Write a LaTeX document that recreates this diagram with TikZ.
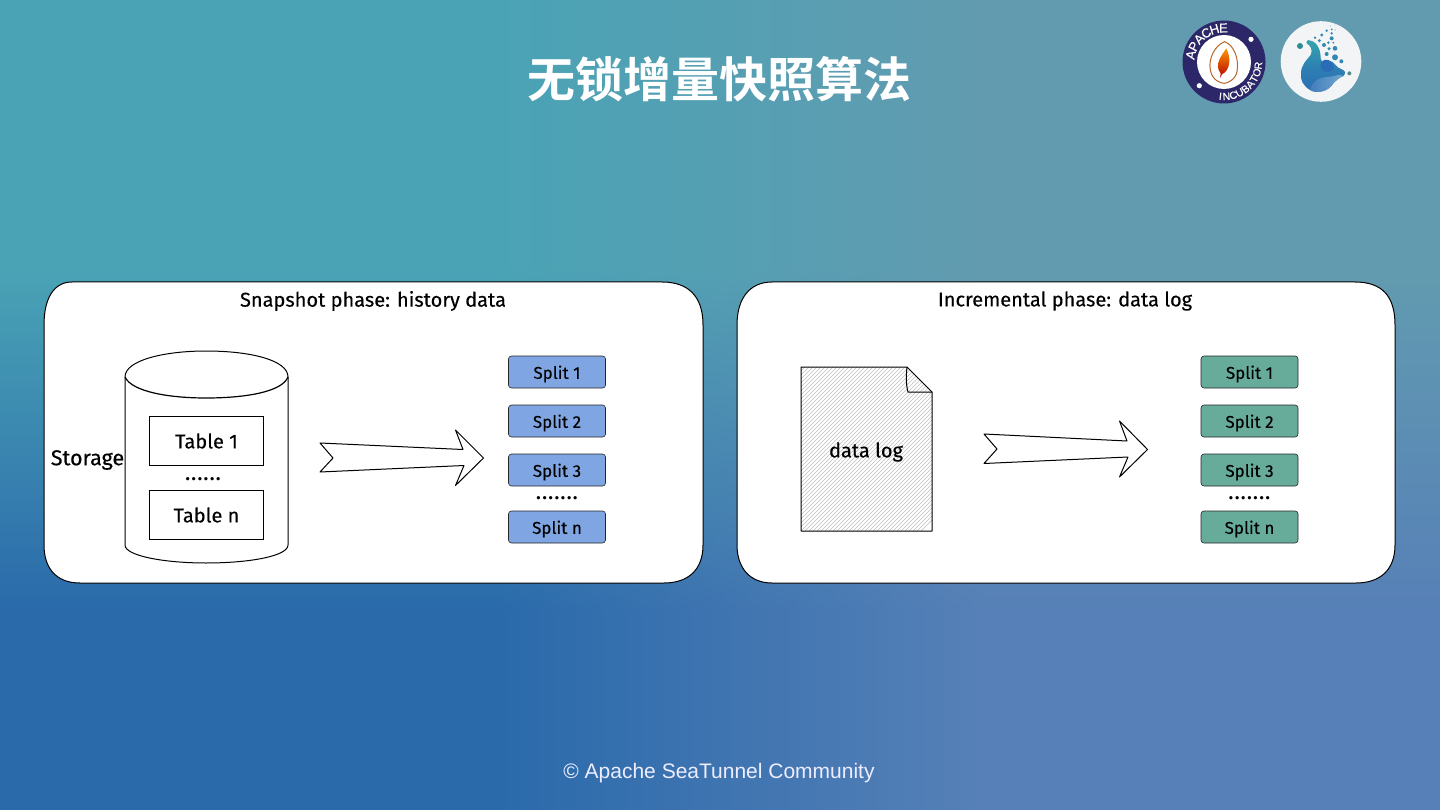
\documentclass[tikz,border=0pt]{standalone}
\usepackage{fontspec}
\usetikzlibrary{shadings}
\setmainfont{Liberation Sans}
\newfontfamily\cjkbold{Noto Sans CJK SC Bold}
\newfontfamily\sketchfont[FakeBold=0.3]{Fira Sans}
\newfontfamily\dotfont[LetterSpace=10]{Fira Sans}
\newfontfamily\logofont[FakeBold=0.2]{Liberation Sans}
\definecolor{tealtl}{HTML}{4AA3B5}
\definecolor{tealtr}{HTML}{629BB0}
\definecolor{bluel}{HTML}{2A6AAB}
\definecolor{bluer}{HTML}{5680B7}
\definecolor{splitblue}{HTML}{7FA6E3}
\definecolor{splitgreen}{HTML}{67AB9B}
\definecolor{navy}{HTML}{2C2768}
\definecolor{logodot}{HTML}{3388B4}
\definecolor{logoteal}{HTML}{35A5AD}
\definecolor{logoblue}{HTML}{2A6CB5}
\definecolor{logolight}{HTML}{7EA8D2}
\definecolor{logopaper}{HTML}{F2F4F5}
\newcommand{\bgcell}[8]{\shade[upper left=#5,upper right=#6,lower left=#7,lower right=#8] (#1,#2) rectangle (#3,#4);}
\tikzset{
  x=1pt,y=-1pt,
  panel/.style={draw=black,fill=white,line width=1pt},
  sketchtext/.style={font=\sketchfont\fontsize{20}{22}\selectfont,inner sep=0pt,text=black},
  splitbox/.style={draw=black!85,line width=0.6pt,rounded corners=3pt,minimum width=97pt,minimum height=32pt,inner sep=0pt,text=black},
  splitlabel/.style={font=\sketchfont\fontsize{17}{19}\selectfont,inner sep=0pt,text=black},
  tablebox/.style={draw=black,fill=white,line width=0.6pt,minimum width=114pt,minimum height=49pt,inner sep=0pt},
  shape line/.style={draw=black,fill=white,line width=1pt,line join=round},
  dots/.style={font=\dotfont\bfseries\fontsize{18}{20}\selectfont,inner sep=0pt},
  logo units/.style={shift={(#1,20)},x=0.3333pt,y=-0.3333pt},
  ringletter/.style={text=white,inner sep=0pt,font=\logofont\fontsize{#1}{#1}\selectfont},
}
\begin{document}
\begin{tikzpicture}
\useasboundingbox (0,0) rectangle (1440,810);
% background
\bgcell{0}{0}{500.5}{270.5}{tealtl}{tealtl}{tealtl}{tealtl}
\bgcell{500}{0}{980.5}{270.5}{tealtl}{tealtr}{tealtl}{tealtr}
\bgcell{980}{0}{1440}{270.5}{tealtr}{tealtr}{tealtr}{tealtr}
\bgcell{0}{270}{500.5}{610.5}{tealtl}{tealtl}{bluel}{bluel}
\bgcell{500}{270}{980.5}{610.5}{tealtl}{tealtr}{bluel}{bluer}
\bgcell{980}{270}{1440}{610.5}{tealtr}{tealtr}{bluer}{bluer}
\bgcell{0}{610}{500.5}{810}{bluel}{bluel}{bluel}{bluel}
\bgcell{500}{610}{980.5}{810}{bluel}{bluer}{bluel}{bluer}
\bgcell{980}{610}{1440}{810}{bluer}{bluer}{bluer}{bluer}
% title and footer
\node[text=white,inner sep=0pt,font=\cjkbold\fontsize{48}{52}\selectfont] (title) at (719,79) {无锁增量快照算法};
\node[text=white!93!blue,inner sep=0pt,font=\fontsize{21}{24}\selectfont] (footer) at (719,773) {© Apache SeaTunnel Community};
% logo 1
\fill[navy] (1224,62) circle (41.5);
\fill[white] (1224,62) circle (27);
\fill[white] (1251,39.3) circle (2.6);
\fill[white] (1199.3,85.7) circle (2.6);
\foreach \ch/\a in {A/168,P/152.6,A/137.2,C/121.8,H/106.4,E/91}{
  \node[ringletter=13,rotate=\a-90] at ({1224+34*cos(\a)},{62-34*sin(\a)}) {\ch};
}
\foreach \ch/\a in {I/-96,N/-86,C/-74.5,U/-63,B/-51.5,A/-40.5,T/-29.5,O/-18,R/-6}{
  \node[ringletter=10.5,rotate=\a+90] at ({1224+34.5*cos(\a)},{62-34.5*sin(\a)}) {\ch};
}
\begin{scope}[logo units=1182]
\draw[draw=navy!35!orange!85!brown,line width=1pt] (128,65) .. controls (155,75) and (172,115) .. (165,155) .. controls (160,180) and (135,190) .. (127,190) .. controls (115,190) and (90,180) .. (85,150) .. controls (78,115) and (100,75) .. (128,65) -- cycle;
\shade[top color=orange!80!yellow,bottom color=red!70!black] (133,85) .. controls (148,115) and (145,150) .. (120,163) -- (114,174) -- (116,160) .. controls (96,135) and (116,110) .. (133,85) -- cycle;
\end{scope}
% logo 2
\fill[logopaper] (1321,61.5) circle (40.3);
\begin{scope}[logo units=1280]
\shade[top color=logoteal,bottom color=logoblue,middle color=logoteal!35!logoblue] (85,60) .. controls (105,62) and (122,80) .. (122,115) .. controls (125,125) and (130,135) .. (145,120) .. controls (165,125) and (170,145) .. (185,148) .. controls (195,152) and (200,158) .. (190,168) .. controls (178,172) and (170,180) .. (160,190) .. controls (145,215) and (110,222) .. (90,210) .. controls (70,198) and (60,180) .. (63,160) .. controls (63,135) and (80,120) .. (92,105) .. controls (100,90) and (90,75) .. (80,70) .. controls (78,65) and (80,62) .. (85,60) -- cycle;
\shade[left color=logoblue!70!logolight,right color=logolight!80!logoteal] (92,211) .. controls (90,190) and (115,170) .. (150,170) .. controls (165,170) and (175,160) .. (190,168) .. controls (178,172) and (170,180) .. (160,190) .. controls (145,215) and (110,222) .. (92,211) -- cycle;
\fill[logoblue] (125,125) .. controls (135,115) and (150,118) .. (160,135) .. controls (168,150) and (150,160) .. (135,155) .. controls (122,150) and (118,135) .. (125,125) -- cycle;
\fill[logoteal!85!black] (60,78) circle (9);
\fill[black!10!logoteal!50!gray] (208,160) circle (6);
\foreach \x/\y/\r in {105/53/4,125/45/5,140/32/4,155/28/3,155/40/4,155/55/6,118/62/5,132/75/6,145/68/4,160/68/3,165/85/7,147/86/5,140/102/6,165/112/9,184/124/6,150/18/1.5,165/15/1.2,165/30/1.5}{
  \fill[logodot] (\x,\y) circle (\r);
}
\end{scope}
% panels
\draw[panel] (72,282) -- (662,282) .. controls (688,282) and (703,296) .. (703,325) -- (703,545) .. controls (703,570) and (688,583) .. (664,583) -- (80,583) .. controls (56,583) and (44,568) .. (44,545) -- (44,325) .. controls (44,298) and (54,282) .. (72,282) -- cycle;
\draw[panel] (772,282) -- (1355,282) .. controls (1382,282) and (1395,296) .. (1395,325) -- (1395,545) .. controls (1395,570) and (1380,583) .. (1356,583) -- (772,583) .. controls (750,583) and (737,568) .. (737,545) -- (737,325) .. controls (737,298) and (750,282) .. (772,282) -- cycle;
\node[sketchtext] (lefthead) at (373,301) {Snapshot phase: history data};
\node[sketchtext] (righthead) at (1065,301) {Incremental phase: data log};
% cylinder
\draw[shape line] (125,377) .. controls (125,360) and (165,351) .. (206,351) .. controls (250,351) and (288,360) .. (288,377) -- (288,545) .. controls (288,556) and (250,563) .. (206,563) .. controls (165,563) and (125,556) .. (125,545) -- cycle;
\draw[line width=1.2pt] (125,377) .. controls (132,392) and (170,398) .. (206,398) .. controls (245,398) and (282,392) .. (288,377);
\node[tablebox] (t1) at (206.5,441) {};
\node[tablebox] (tn) at (206.5,515) {};
\node[sketchtext] (t1label) at (206.5,441) {Table 1};
\node[sketchtext] (tnlabel) at (206.5,515) {Table n};
\node[dots] (tdots) at (203,479) {......};
\node[sketchtext,font=\sketchfont\fontsize{21.5}{23}\selectfont] (storage) at (87.5,460) {Storage};
% arrows
\draw[shape line] (320,443) -- (463,449.5) -- (455.5,430) -- (483.5,458) -- (455.5,485.5) -- (464,465.5) -- (320,472) -- (333,458) -- cycle;
\draw[shape line] (984,434) -- (1127,441) -- (1119.5,421) -- (1147.5,449.5) -- (1119.5,477) -- (1128,457) -- (984,463.5) -- (997,449) -- cycle;
% split boxes
\foreach \n/\lab/\y in {a/Split 1/372,b/Split 2/421,c/Split 3/470,d/Split n/527}{
  \node[splitbox,fill=splitblue] (l\n) at (557,\y) {};
  \node[splitlabel] at (557,\y+2) {\lab};
  \node[splitbox,fill=splitgreen] (r\n) at (1249.5,\y) {};
  \node[splitlabel] at (1249.5,\y+2) {\lab};
}
\node[dots] (ldots) at (557,498) {.......};
\node[dots] (rdots) at (1249.5,498) {.......};
% document
\begin{scope}
\clip (801,367) -- (907,367) -- (932,392) -- (932,531) -- (801,531) -- cycle;
\fill[white] (801,367) rectangle (932,531);
\foreach \i in {0,...,74}{
  \draw[black!25,line width=0.6pt] ({620+\i*4},536) -- ({620+\i*4+180},356);
}
\end{scope}
\draw[draw=black,line width=1pt,line join=round] (801,367) -- (907,367) -- (932,392) -- (932,531) -- (801,531) -- cycle;
\draw[draw=black,line width=1pt,line join=round] (907,367) .. controls (906,376) and (906,385) .. (908,392) -- (932,392);
\node[sketchtext] (datalog) at (866,452) {data log};
\end{tikzpicture}
\end{document}
